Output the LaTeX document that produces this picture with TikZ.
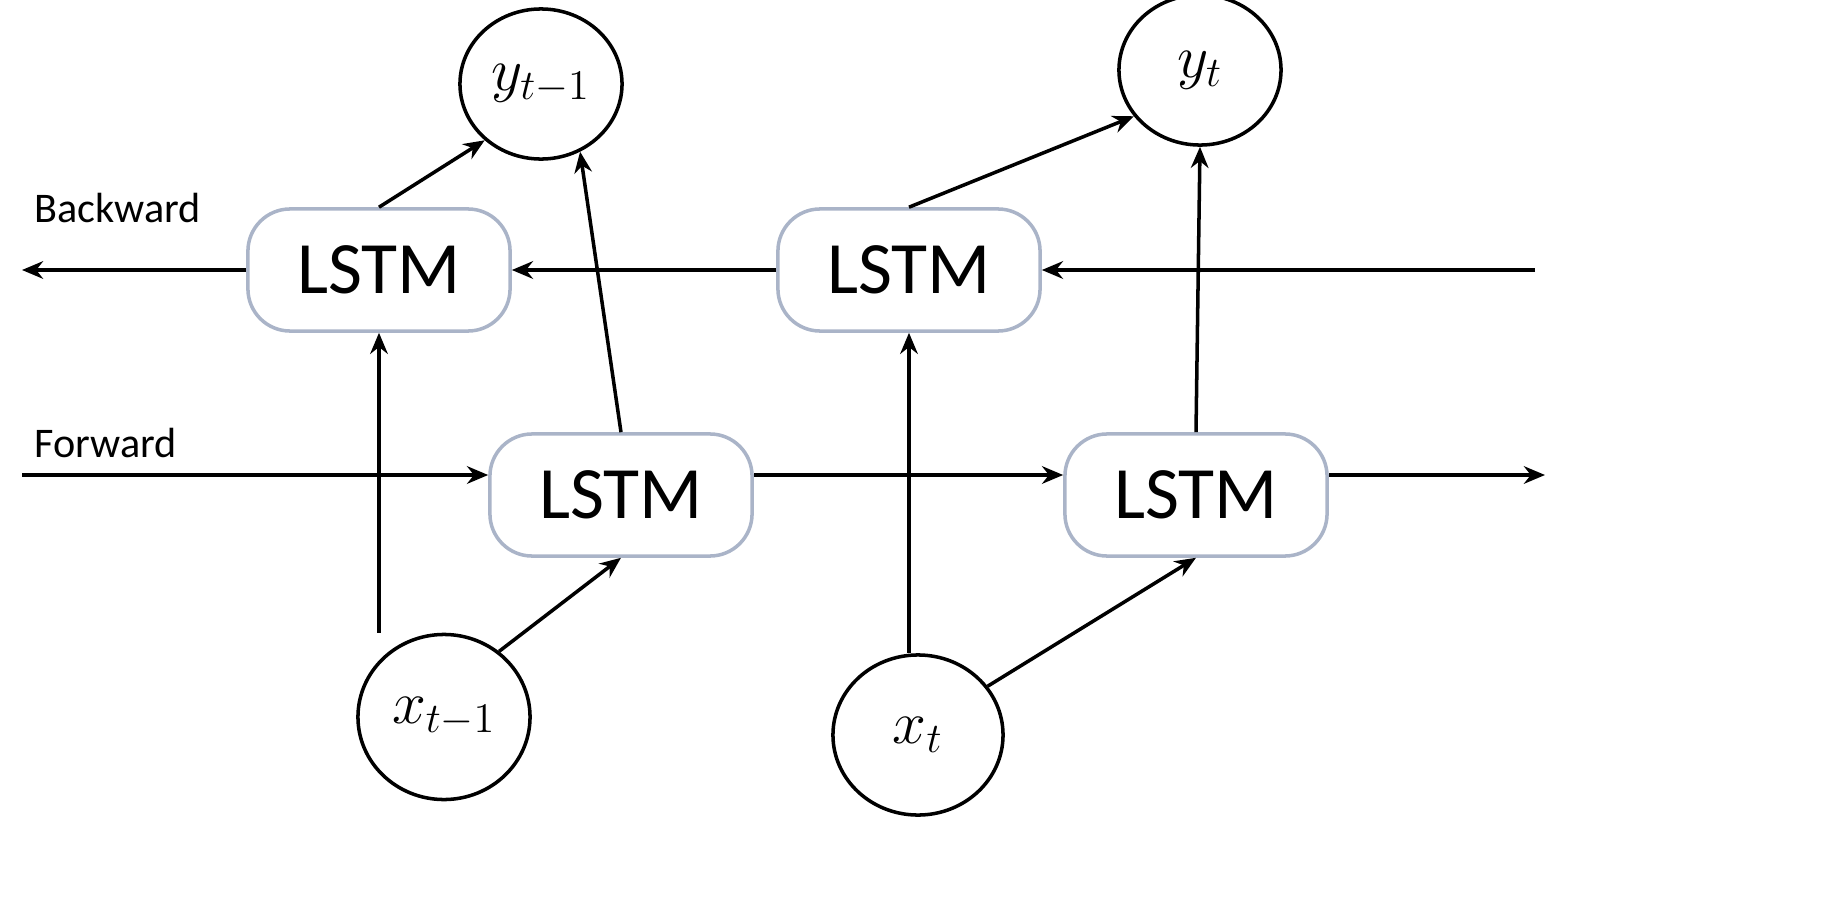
\documentclass[tikz,border=0pt]{standalone}
\usepackage{fontspec}
\setmainfont{Carlito}
\usetikzlibrary{shapes.geometric,arrows.meta}
\definecolor{boxc}{RGB}{170,180,200}
\begin{document}
\begin{tikzpicture}[x=0.01cm,y=-0.01cm,
  cell/.style={draw=boxc, line width=1pt, rounded corners=12pt, inner sep=0pt, minimum width=2.62cm, minimum height=1.22cm, font=\fontsize{21}{24}\selectfont},
  io/.style={draw, line width=1pt, ellipse, inner sep=0pt, minimum width=1.62cm, minimum height=1.5cm, font=\fontsize{17}{20}\selectfont},
  ar/.style={-{Stealth[length=6pt,width=5pt]}, line width=1pt},
  lab/.style={font=\fontsize{12}{14}\selectfont, anchor=west}]
\useasboundingbox (0,0) rectangle (1832,909);
\node[io] (ya) at (541,84) {$y_{t-1}$};
\node[io] (yb) at (1200,70) {$y_t$};
\node[cell] (b1) at (379,270) {LSTM};
\node[cell] (b2) at (909,270) {LSTM};
\node[cell] (f1) at (621,495) {LSTM};
\node[cell] (f2) at (1196,495) {LSTM};
\node[io, minimum width=1.72cm, minimum height=1.65cm] (xa) at (444,717) {$x_{t-1}$};
\node[io, minimum width=1.7cm, minimum height=1.6cm] (xb) at (918,735) {$x_t$};
\coordinate (bin) at (1535,270);
\coordinate (bout) at (22,270);
\coordinate (fin) at (22,475);
\coordinate (fout) at (1545,475);
\node[lab] at (22,208) {Backward};
\node[lab] at (22,443) {Forward};
\draw[ar] (bin) -- (b2.east |- bin);
\draw[ar] (b2.west) -- (b1.east);
\draw[ar] (b1.west) -- (bout);
\draw[ar] (fin) -- (f1.west |- fin);
\draw[ar] (f1.east |- fin) -- (f2.west |- fin);
\draw[ar] (f2.east |- fin) -- (fout);
\draw[ar] (b1.north) -- (ya.225);
\draw[ar] (f1.north) -- (ya.-60);
\draw[ar] (b2.north) -- (yb.215);
\draw[ar] (f2.north) -- (yb.south);
\draw[ar] (xa.north -| b1.south) -- (b1.south);
\draw[ar] (xa.50) -- (f1.south);
\draw[ar] (xb.north -| b2.south) -- (b2.south);
\draw[ar] (xb.35) -- (f2.south);
\end{tikzpicture}
\end{document}
